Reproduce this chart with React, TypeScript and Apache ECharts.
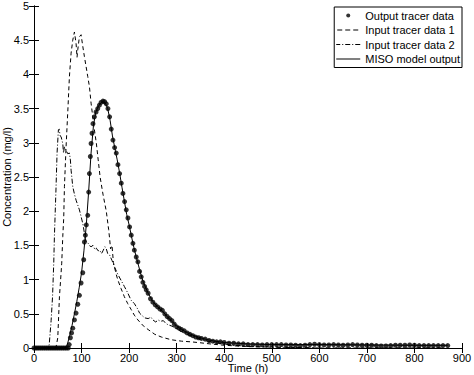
import React, { useEffect, useRef } from "react";
import * as echarts from "echarts";

// ---- Axis ticks ----
const xTicks = [0, 100, 200, 300, 400, 500, 600, 700, 800, 900];
const yTicks = [0, 0.5, 1, 1.5, 2, 2.5, 3, 3.5, 4, 4.5, 5];

const seriesNames = [
  "Output tracer data",
  "Input tracer data 1",
  "Input tracer data 2",
  "MISO model output",
];

// ---- Output tracer data (dots) ----
const outTime = [
  0, 4, 8, 12, 16, 20, 24, 28, 32, 36, 40, 44, 48, 52, 56, 60, 64, 68, 72,
  74, 76.5, 79, 81.5, 85, 88.5, 92, 95.5, 99, 102.5, 104.5, 106, 108, 110, 113, 115,
  116.5, 118.5, 120, 122, 124, 127, 130.5, 134, 137.5, 141, 145, 148.5, 152, 155.5,
  159, 162.5, 166, 169.5, 173, 176.5, 180, 183.5, 187, 190.5, 194, 197.5, 201, 204.5,
  208, 211, 215, 218.5, 222, 225.5, 229, 232.5, 236, 240, 245, 250, 255, 260, 265,
  270, 275, 280, 285, 290, 295, 300, 305, 310, 316, 322, 328, 334, 340, 346, 352,
  360, 368, 376, 384, 392, 400, 410, 420, 430, 440, 450, 460, 470, 480, 490, 500,
  510, 520, 530, 540, 550, 560, 570, 580, 590, 600, 610, 620, 630, 640, 650, 660,
  670, 680, 690, 700, 710, 720, 730, 740, 750, 760, 770, 780, 790, 800, 810, 820,
  830, 840, 850, 860, 870,
];
const outConc = [
  0, 0, 0, 0, 0, 0, 0, 0, 0, 0, 0, 0, 0, 0, 0, 0, 0, 0, 0,
  0.05, 0.15, 0.22, 0.29, 0.41, 0.51, 0.64, 0.77, 0.95, 1.1, 1.29, 1.55, 1.65, 1.8, 1.94, 2.28,
  2.55, 2.8, 2.99, 3.14, 3.28, 3.38, 3.45, 3.5, 3.55, 3.59, 3.61, 3.6, 3.57, 3.5,
  3.38, 3.2, 3.04, 2.93, 2.85, 2.68, 2.55, 2.41, 2.26, 2.14, 2.02, 1.9, 1.77, 1.65,
  1.53, 1.43, 1.33, 1.26, 1.12, 1.04, 0.96, 0.9, 0.85, 0.8, 0.72, 0.67, 0.63, 0.6, 0.57,
  0.55, 0.5, 0.46, 0.43, 0.4, 0.35, 0.31, 0.29, 0.27, 0.25, 0.22, 0.2, 0.18, 0.16, 0.15, 0.14,
  0.13, 0.11, 0.1, 0.09, 0.09, 0.08, 0.07, 0.07, 0.06, 0.06, 0.05, 0.05, 0.05, 0.045, 0.05, 0.05,
  0.05, 0.05, 0.045, 0.045, 0.04, 0.035, 0.04, 0.05, 0.055, 0.05, 0.045, 0.045, 0.05, 0.045, 0.04, 0.045,
  0.05, 0.045, 0.04, 0.04, 0.04, 0.035, 0.03, 0.03, 0.035, 0.04, 0.04, 0.04, 0.045, 0.04, 0.035, 0.035,
  0.035, 0.035, 0.035, 0.035, 0.035,
];

// ---- Input tracer data 1 (dashed) ----
const in1Time = [
  0, 46, 50, 53.5, 56, 58.3, 60.5, 62.5, 64, 67.5, 71, 74.5, 78, 81.5, 85, 88.5, 90.5,
  92, 95.5, 99, 102.6, 106, 113, 116.6, 120, 123.6, 127, 131, 135, 139, 145, 152, 157,
  159, 161, 164, 167, 172, 176, 183, 190, 197, 204.5, 211, 218.5, 225, 232, 240, 254,
  268, 289, 310, 330, 345, 370, 400, 450, 530, 600, 860,
];
const in1Conc = [
  0, 0, 0.15, 0.75, 1.0, 1.24, 1.63, 1.9, 2.36, 2.95, 3.45, 3.97, 4.31, 4.5, 4.62, 4.45, 4.25,
  4.36, 4.55, 4.58, 4.41, 4.26, 3.97, 3.82, 3.58, 3.38, 3.19, 3.0, 2.75, 2.5, 2.25, 2.0, 1.73,
  1.6, 1.45, 1.5, 1.25, 1.1, 1.0, 0.87, 0.75, 0.65, 0.56, 0.48, 0.41, 0.36, 0.31, 0.27, 0.2,
  0.16, 0.12, 0.1, 0.09, 0.08, 0.06, 0.04, 0.02, 0.01, 0, 0,
];

// ---- Input tracer data 2 (dash-dot) ----
const in2Time = [
  0, 30, 32, 36, 39, 41.5, 43, 46.4, 48.5, 51.3, 53, 55, 57, 60.5, 62, 64, 67.5, 71, 74.5,
  76.5, 78, 81.5, 85, 88.5, 95.5, 102.6, 106, 108, 110, 114, 116, 120, 124, 128, 131, 135,
  138, 142, 145, 149, 152, 155, 159, 164, 169, 176, 183, 190, 197.5, 204, 211, 218, 222,
  228, 233, 240, 246, 250, 256, 261, 266, 272, 277, 282, 290, 296, 310, 325, 345, 365, 387,
  420, 460, 520, 600, 860,
];
const in2Conc = [
  0, 0, 0.05, 0.4, 0.75, 1.24, 1.65, 2.36, 2.85, 3.19, 3.2, 3.1, 3.09, 2.99, 2.85, 2.94, 2.89, 2.84, 2.85,
  2.75, 2.6, 2.36, 2.25, 2.16, 2.02, 1.82, 1.68, 1.6, 1.55, 1.53, 1.5, 1.48, 1.5, 1.44, 1.46, 1.42,
  1.43, 1.38, 1.42, 1.48, 1.45, 1.38, 1.36, 1.28, 1.19, 1.08, 0.99, 0.9, 0.8, 0.7, 0.65, 0.57, 0.51,
  0.47, 0.44, 0.43, 0.45, 0.41, 0.38, 0.41, 0.39, 0.4, 0.36, 0.34, 0.32, 0.3, 0.24, 0.19, 0.14, 0.1, 0.07,
  0.04, 0.02, 0.01, 0, 0,
];

// ---- MISO model output (solid) ----
const modelTime = [
  0, 66, 70, 75, 80, 85, 90, 95, 100, 105, 110, 115, 120, 125, 130, 135, 140, 145, 150,
  155, 160, 165, 170, 175, 180, 185, 190, 195, 200, 205, 210, 215, 220, 225, 230, 240,
  250, 260, 270, 280, 290, 300, 320, 340, 360, 380, 400, 450, 500, 600, 700, 800, 870,
];
const modelConc = [
  0, 0, 0.05, 0.18, 0.33, 0.5, 0.68, 0.88, 1.1, 1.42, 1.8, 2.3, 2.85, 3.25, 3.45, 3.53, 3.58, 3.6, 3.58,
  3.5, 3.33, 3.1, 2.92, 2.75, 2.56, 2.35, 2.15, 1.95, 1.8, 1.63, 1.47, 1.33, 1.2, 1.07, 0.96, 0.8,
  0.68, 0.6, 0.54, 0.46, 0.39, 0.32, 0.23, 0.17, 0.13, 0.1, 0.08, 0.06, 0.05, 0.05, 0.045, 0.04, 0.04,
];

const pairs = (t: number[], v: number[]) => t.map((x, i) => [x, v[i]]);

// legend icons (24 x 13 box, bounded by leading moveTo points)
const BOX = "M0,0M24,13";
const ICON_DOT = "path://" + BOX + "M10,6.5a2,2 0 1,0 4,0a2,2 0 1,0 -4,0z";
const ICON_DASH = "path://" + BOX + "M1,6h5v1h-5zM9,6h5v1h-5zM17,6h5v1h-5z";
const ICON_DASHDOT = "path://" + BOX + "M0,6h4v1h-4zM6,6h1v1h-1zM9,6h5v1h-5zM16,6h1v1h-1zM19,6h5v1h-5z";
const ICON_SOLID = "path://" + BOX + "M0,6h24v1h-24z";

const FONT = "'Liberation Sans', Arial, Helvetica, sans-serif";

export default function App() {
  const ref = useRef<HTMLDivElement>(null);
  useEffect(() => {
    document.body.style.margin = "0";
    const chart = echarts.init(ref.current!, null, { renderer: "svg" });
    const axisLine = { show: true, lineStyle: { color: "#000", width: 1 } };
    const axisTick = { show: true, inside: true, length: 5, lineStyle: { color: "#000" } };
    chart.setOption({
      animation: false,
      backgroundColor: "#fff",
      textStyle: { fontFamily: FONT, color: "#000" },
      grid: {
        left: 34,
        right: 12,
        top: 6,
        bottom: 27,
        containLabel: false,
        outerBoundsMode: "none",
      },
      legend: {
        orient: "vertical",
        right: 12,
        top: 7,
        backgroundColor: "#fff",
        borderColor: "#000",
        borderWidth: 1,
        borderRadius: 0,
        padding: [2, 2, 2, 2],
        itemGap: 1.5,
        itemWidth: 24,
        itemHeight: 13,
        selectedMode: false,
        textStyle: { fontSize: 11, color: "#000", fontFamily: FONT },
        data: [
          { name: seriesNames[0], icon: ICON_DOT },
          { name: seriesNames[1], icon: ICON_DASH },
          { name: seriesNames[2], icon: ICON_DASHDOT },
          { name: seriesNames[3], icon: ICON_SOLID },
        ],
      },
      xAxis: [
        {
          type: "value",
          min: xTicks[0],
          max: xTicks[xTicks.length - 1],
          interval: 100,
          position: "bottom",
          axisLine,
          axisTick,
          splitLine: { show: false },
          axisLabel: { fontSize: 11, color: "#000", margin: 4, fontFamily: FONT },
          name: "Time (h)",
          nameLocation: "middle",
          nameGap: 14,
          nameMoveOverlap: false,
          nameTextStyle: { fontSize: 11, color: "#000", fontFamily: FONT },
        },
        {
          type: "value",
          min: xTicks[0],
          max: xTicks[xTicks.length - 1],
          interval: 100,
          position: "top",
          axisLine,
          axisTick,
          splitLine: { show: false },
          axisLabel: { show: false },
        },
      ],
      yAxis: [
        {
          type: "value",
          min: yTicks[0],
          max: yTicks[yTicks.length - 1],
          interval: 0.5,
          position: "left",
          axisLine,
          axisTick,
          splitLine: { show: false },
          axisLabel: { fontSize: 11, color: "#000", margin: 5, fontFamily: FONT },
          name: "Concentration (mg/l)",
          nameLocation: "middle",
          nameGap: 22,
          nameMoveOverlap: false,
          nameTextStyle: { fontSize: 11, color: "#000", fontFamily: FONT },
        },
        {
          type: "value",
          min: yTicks[0],
          max: yTicks[yTicks.length - 1],
          interval: 0.5,
          position: "right",
          axisLine,
          axisTick,
          splitLine: { show: false },
          axisLabel: { show: false },
        },
      ],
      series: [
        {
          name: seriesNames[1],
          type: "line",
          data: pairs(in1Time, in1Conc),
          symbol: "none",
          color: "#000",
          lineStyle: { color: "#000", width: 1, type: [4, 3] },
          z: 2,
        },
        {
          name: seriesNames[2],
          type: "line",
          data: pairs(in2Time, in2Conc),
          symbol: "none",
          color: "#000",
          lineStyle: { color: "#000", width: 1, type: [5, 2, 1, 2] },
          z: 2,
        },
        {
          name: seriesNames[3],
          type: "line",
          data: pairs(modelTime, modelConc),
          symbol: "none",
          color: "#000",
          lineStyle: { color: "#000", width: 1 },
          z: 3,
        },
        {
          name: seriesNames[0],
          type: "scatter",
          data: pairs(outTime, outConc),
          symbol: "circle",
          symbolSize: 5,
          color: "#000",
          itemStyle: { color: "#000" },
          z: 4,
        },
      ],
    });
    return () => chart.dispose();
  }, []);
  return (
    <div
      ref={ref}
      style={{ position: "absolute", left: 0, top: 0, width: 474, height: 375 }}
    />
  );
}
